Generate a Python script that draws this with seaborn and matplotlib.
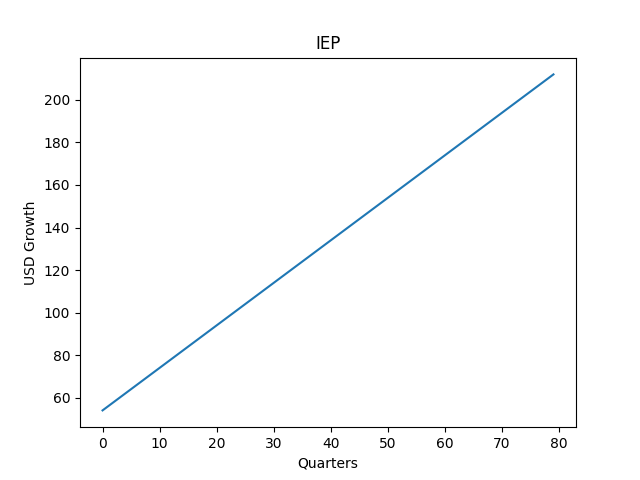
import matplotlib
matplotlib.use("Agg")
import matplotlib.pyplot as plt
import seaborn as sns

quarters = list(range(80))
usd_growth = [54, 56, 58, 60, 62, 64, 66, 68, 70, 72,
              74, 76, 78, 80, 82, 84, 86, 88, 90, 92,
              94, 96, 98, 100, 102, 104, 106, 108, 110, 112,
              114, 116, 118, 120, 122, 124, 126, 128, 130, 132,
              134, 136, 138, 140, 142, 144, 146, 148, 150, 152,
              154, 156, 158, 160, 162, 164, 166, 168, 170, 172,
              174, 176, 178, 180, 182, 184, 186, 188, 190, 192,
              194, 196, 198, 200, 202, 204, 206, 208, 210, 212]

fig, ax = plt.subplots(figsize=(6.4, 4.8), dpi=100)
sns.lineplot(x=quarters, y=usd_growth, ax=ax, color="#1f77b4")
ax.set_title("IEP")
ax.set_xlabel("Quarters")
ax.set_ylabel("USD Growth")
plt.savefig("out.png")
